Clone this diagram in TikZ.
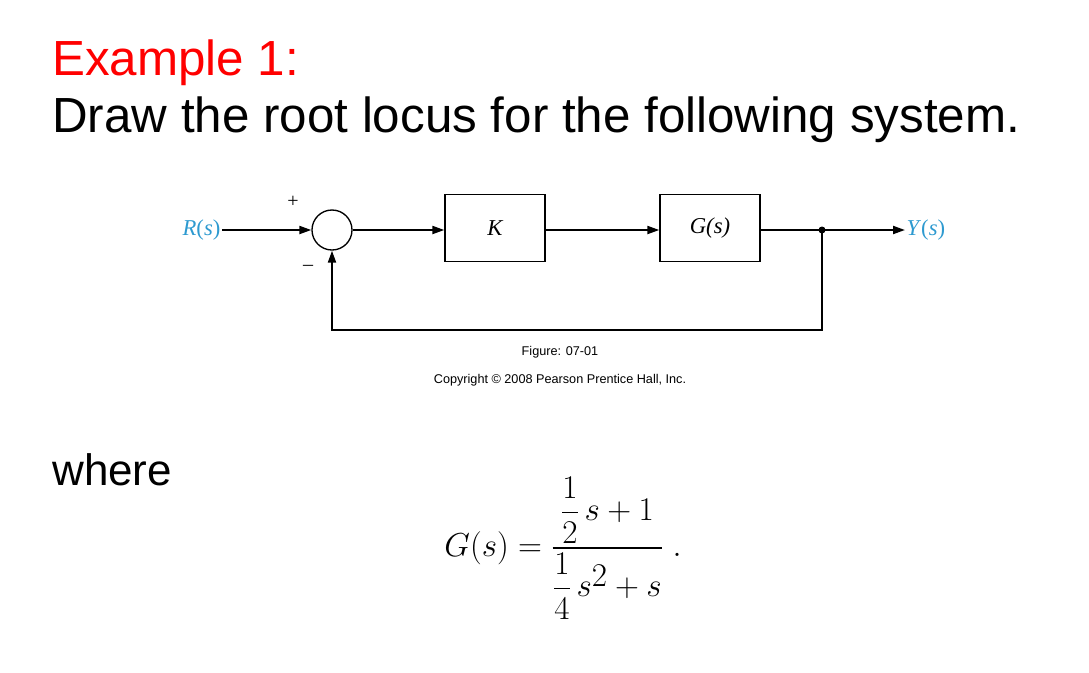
\documentclass[tikz,border=0pt]{standalone}
\usepackage{amsmath}
\usepackage{fontspec}
\setmainfont{Liberation Sans}
\newfontfamily\serifx{Liberation Serif}
\usetikzlibrary{arrows.meta}
\definecolor{lblue}{HTML}{2E9AD0}
\begin{document}
\begin{tikzpicture}[x=0.75pt,y=-0.75pt,
  blk/.style={draw,line width=1pt,minimum width=75pt,minimum height=50pt,font=\serifx\itshape\fontsize{17}{20}\selectfont},
  sig/.style={line width=1.5pt,-{Triangle[length=9pt,width=6pt]}},
  lbl/.style={font=\serifx\fontsize{17}{20}\selectfont,text=lblue}]
\useasboundingbox (0,0) rectangle (1089,672);
\node[anchor=base west,text=red,font=\fontsize{37}{42}\selectfont,inner sep=0] (ex) at (52,75) {Example 1:};
\node[anchor=base west,font=\fontsize{37}{42}\selectfont,inner sep=0] (dr) at (52,132) {Draw the root locus for the following system.};
\node[lbl,anchor=east,inner sep=1pt] (R) at (222,230) {\textit{R}(\textit{s})};
\node[draw,circle,line width=1pt,minimum size=30pt,inner sep=0] (sum) at (332,230) {};
\node[blk] (K) at (495,228) {K};
\node[blk] (G) at (710,228) {G(s)};
\node[lbl,anchor=west,inner sep=1pt] (Y) at (905,230) {\textit{Y}(\textit{s})};
\coordinate (d) at (822,230);
\coordinate (b1) at (822,330);
\coordinate (b2) at (332,330);
\draw[sig] (R) -- (sum);
\draw[sig] (sum) -- (sum -| K.west);
\draw[sig] (K.east |- sum) -- (G.west |- sum);
\draw[sig] (G.east |- sum) -- (Y);
\fill (d) circle (3.5);
\draw[line width=1.5pt,-{Triangle[length=9pt,width=6pt]}] (d) -- (b1) -- (b2) -- (sum.south);
\node[font=\serifx\fontsize{15}{16}\selectfont] (p) at (293,202) {+};
\node[font=\serifx\fontsize{15}{16}\selectfont] (m) at (308,268) {\textendash};
\node[font=\fontsize{9.5}{11}\selectfont] (f) at (560,352) {Figure: 07-01};
\node[font=\fontsize{9.5}{11}\selectfont] (c) at (560,380) {Copyright \textcopyright\ 2008 Pearson Prentice Hall, Inc.};
\node[anchor=base west,font=\fontsize{33}{38}\selectfont,inner sep=0] (w) at (52,485) {where};
\node[font=\fontsize{41}{48}\selectfont] (eq) at (563,548) {$\displaystyle G(s)=\frac{\dfrac{1}{2}\,s+1}{\dfrac{1}{4}\,s^{2}+s}\;.$};
\end{tikzpicture}
\end{document}
